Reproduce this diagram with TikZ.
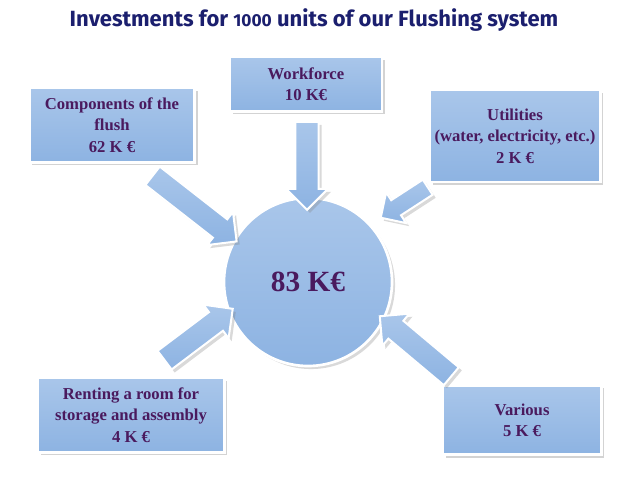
\documentclass[tikz,border=0pt]{standalone}
\usepackage{fontspec}
\setmainfont{Liberation Serif}
\newfontfamily\titlefont{Fira Sans}
\usetikzlibrary{shapes.arrows,shadows}
\definecolor{boxfill}{HTML}{8DB3E2}
\definecolor{boxtop}{HTML}{A9C6EA}
\definecolor{txt}{HTML}{4A1A5E}
\definecolor{ttl}{HTML}{1B1F6E}
\tikzset{
 box/.style={draw=white,line width=2pt,top color=boxtop,bottom color=boxfill,align=center,
   font=\bfseries\fontsize{12.5}{16}\selectfont,text=txt,drop shadow={opacity=0.35}},
 arr/.style={single arrow,draw=white,line width=1.5pt,top color=boxtop,bottom color=boxfill,
   single arrow head extend=7pt,inner sep=8pt,drop shadow={opacity=0.3}}
}
\begin{document}
\begin{tikzpicture}[x=0.75pt,y=-0.75pt]
\useasboundingbox (0,0) rectangle (638,478);
\node[font=\titlefont\bfseries\fontsize{16.5}{19}\selectfont,text=ttl] (t) at (314,20) {Investments for {\fontsize{13}{14}\selectfont 1000} units of our Flushing system};
\node[box,minimum width=124pt,minimum height=56pt] (c) at (112,125) {Components of the\\flush\\62 K €};
\node[box,minimum width=114pt,minimum height=41pt] (w) at (306,84) {Workforce\\10 K€};
\node[box,minimum width=128pt,minimum height=69pt] (u) at (515,136) {Utilities\\(water, electricity, etc.)\\2 K €};
\node[box,minimum width=140pt,minimum height=56pt] (r) at (131,415) {Renting a room for\\storage and assembly\\4 K €};
\node[box,minimum width=119pt,minimum height=52pt] (v) at (522,420) {Various\\5 K €};
\node[circle,draw=white,line width=2pt,top color=boxtop,bottom color=boxfill,minimum size=126pt,
  text=txt,font=\bfseries\fontsize{22}{26}\selectfont,drop shadow={opacity=0.3}] (m) at (308,282) {83 K€};
\node[arr,minimum height=80pt,rotate=-38] (a1) at (190,205) {};
\node[arr,minimum height=66pt,rotate=-90] (a2) at (307,160) {};
\node[arr,minimum height=42pt,inner sep=6pt,rotate=-147] (a3) at (408,200) {};
\node[arr,minimum height=64pt,rotate=37] (a4) at (194,338) {};
\node[arr,minimum height=70pt,rotate=140] (a5) at (420,350) {};
\end{tikzpicture}
\end{document}
